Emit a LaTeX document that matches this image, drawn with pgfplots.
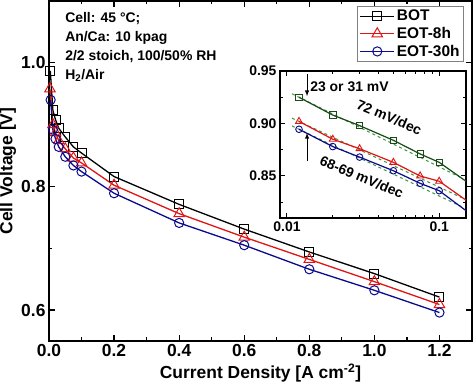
\documentclass[border=0pt]{standalone}
\usepackage{fontspec}
\setmainfont{Liberation Sans}
\usepackage{pgfplots}
\pgfplotsset{compat=1.18}
\definecolor{myred}{RGB}{225,20,20}
\definecolor{myblue}{RGB}{10,10,140}
\definecolor{dgreen}{RGB}{25,75,25}
\definecolor{fitgreen}{RGB}{60,150,60}
\begin{document}
\begin{tikzpicture}
\pgfplotsset{
  /pgf/number format/assume math mode=true,
}
\begin{axis}[
  at={(0,0)}, anchor=south west, scale only axis,
  width=423bp, height=340bp,
  xmin=0, xmax=1.3, ymin=0.55, ymax=1.1,
  xtick={0,0.2,0.4,0.6,0.8,1.0,1.2},
  minor xtick={0.1,0.3,0.5,0.7,0.9,1.1,1.3},
  ytick={0.6,0.8,1.0}, minor ytick={0.7,0.9},
  xticklabels={0.0,0.2,0.4,0.6,0.8,1.0,1.2},
  yticklabels={0.6,0.8,1.0},
  tick align=inside, major tick length=6bp, minor tick length=3.5bp,
  every tick/.style={black, line width=1.2bp},
  axis line style={line width=1.6bp},
  tick label style={font=\bfseries\fontsize{17.5}{17.5}\selectfont},
  xlabel={\bfseries Current Density [A cm\textsuperscript{-2}]},
  ylabel={\bfseries Cell Voltage [V]},
  every axis x label/.style={at={(rel axis cs:0.5,-0.094)}, anchor=center, font=\fontsize{17.5}{17.5}\selectfont},
  every axis y label/.style={at={(rel axis cs:-0.097,0.5)}, anchor=center, rotate=90, font=\fontsize{17.5}{17.5}\selectfont},
  legend style={at={(rel axis cs:0.981,0.986)}, anchor=north east, draw=gray, line width=0.8bp,
    font=\bfseries\fontsize{15.5}{15.5}\selectfont, row sep=1bp, inner sep=2bp, cells={anchor=west}},
  legend image code/.code={\draw[mark repeat=2, mark phase=2] plot coordinates {(0bp,0bp) (17bp,0bp) (34bp,0bp)};},
]
\addplot[black, line width=1.3bp, mark=square, mark size=4.5bp, mark options={solid, line width=1bp, fill=white}] coordinates {
 (0.004,0.987) (0.012,0.923) (0.02,0.908) (0.03,0.894) (0.05,0.880) (0.075,0.864) (0.1,0.854)
 (0.2,0.816) (0.4,0.771) (0.6,0.731) (0.8,0.694) (1.0,0.659) (1.2,0.621)};
\addlegendentry{BOT}
\addplot[myred, line width=1.3bp, mark=triangle, mark size=6bp, mark options={solid, line width=1bp, fill=white}] coordinates {
 (0.003,0.958) (0.012,0.900) (0.02,0.887) (0.03,0.874) (0.05,0.861) (0.075,0.846) (0.1,0.838)
 (0.2,0.802) (0.4,0.756) (0.6,0.718) (0.8,0.682) (1.0,0.646) (1.2,0.609)};
\addlegendentry{EOT-8h}
\addplot[myblue, line width=1.3bp, mark=o, mark size=4.6bp, mark options={solid, line width=1bp, fill=white}] coordinates {
 (0.005,0.940) (0.012,0.892) (0.02,0.877) (0.03,0.864) (0.05,0.848) (0.075,0.834) (0.1,0.824)
 (0.2,0.789) (0.4,0.741) (0.6,0.705) (0.8,0.666) (1.0,0.632) (1.2,0.596)};
\addlegendentry{EOT-30h}
\node[anchor=north west, align=left, font=\bfseries\fontsize{14}{19}\selectfont, inner sep=0pt]
  at (rel axis cs:0.038,0.967) {Cell: 45 °C;\\An/Ca: 10 kpag\\2/2 stoich, 100/50\% RH\\H\textsubscript{2}/Air};
\end{axis}
\begin{axis}[
  at={(231bp,123bp)}, anchor=south west, scale only axis,
  width=186bp, height=147bp,
  xmode=log, xmin=0.009, xmax=0.15, ymin=0.81, ymax=0.95,
  xtick={0.01,0.1}, xticklabels={0.01,0.1},
  ytick={0.85,0.90,0.95}, yticklabels={0.85,0.90,0.95},
  minor ytick={0.825,0.875,0.925},
  tick align=inside, major tick length=5bp, minor tick length=3bp,
  every tick/.style={black, line width=1bp},
  axis line style={line width=1.4bp},
  axis background/.style={fill=white},
  tick label style={font=\bfseries\fontsize{14}{14}\selectfont},
  clip=true,
]
\addplot[fitgreen, dashed, line width=1bp] coordinates {(0.0108,0.9283) (0.14,0.8482)};
\addplot[fitgreen, dashed, line width=1bp] coordinates {(0.0108,0.9051) (0.14,0.8295)};
\addplot[fitgreen, dashed, line width=1bp] coordinates {(0.0108,0.8977) (0.14,0.8209)};
\addplot[dgreen, line width=1.2bp, mark=square, mark size=3.2bp, mark indices={1,...,6}, mark options={solid, line width=0.9bp, fill=white}] coordinates {
 (0.012,0.925) (0.02,0.908) (0.03,0.898) (0.05,0.884) (0.075,0.871) (0.1,0.863) (0.15,0.845)};
\addplot[myred, line width=1.2bp, mark=triangle, mark size=4bp, mark indices={1,...,6}, mark options={solid, line width=0.9bp, fill=white}] coordinates {
 (0.012,0.902) (0.02,0.885) (0.03,0.876) (0.05,0.863) (0.075,0.850) (0.1,0.845) (0.15,0.827)};
\addplot[myblue, line width=1.2bp, mark=o, mark size=3.3bp, mark indices={1,...,6}, mark options={solid, line width=0.9bp, fill=white}] coordinates {
 (0.012,0.8945) (0.02,0.878) (0.03,0.868) (0.05,0.855) (0.075,0.843) (0.1,0.836) (0.15,0.817)};
\draw[-{latex}, line width=1bp] (axis cs:0.01355,0.947) -- (axis cs:0.01355,0.926);
\draw[-{latex}, line width=1bp] (axis cs:0.01355,0.864) -- (axis cs:0.01355,0.891);
\node[anchor=west, font=\bfseries\fontsize{14}{14}\selectfont, inner sep=0pt] at (axis cs:0.0142,0.935) {23 or 31 mV};
\node[rotate=-23, font=\bfseries\fontsize{14}{14}\selectfont, inner sep=0pt] at (axis cs:0.047,0.906) {72 mV/dec};
\node[rotate=-23, font=\bfseries\fontsize{14}{14}\selectfont, inner sep=0pt] at (axis cs:0.031,0.849) {68-69 mV/dec};
\end{axis}
\pgfresetboundingbox
\useasboundingbox (-49bp,-41bp) rectangle (425bp,341bp);
\end{tikzpicture}
\end{document}
